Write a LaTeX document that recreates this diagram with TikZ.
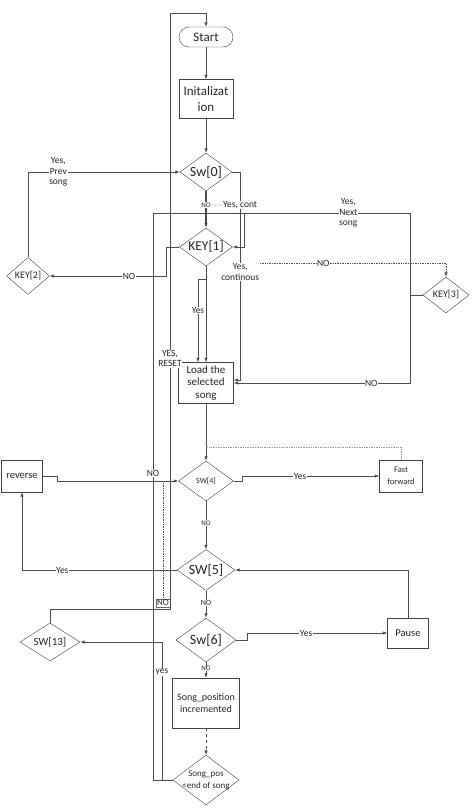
\documentclass[tikz,border=0pt]{standalone}
\usepackage{fontspec}
\setmainfont{Carlito}
\usetikzlibrary{positioning, arrows.meta, shapes.geometric}

\newcommand{\fsz}[2]{\fontsize{#1}{#2}\selectfont}
\tikzset{
  flow/.style={draw=black!70, line width=0.7pt, -{Latex[length=4.5pt,width=3.5pt]}},
  wire/.style={draw=black!70, line width=0.7pt},
  proc/.style={draw=black!75, rectangle, align=center, inner sep=1pt, text=black!85},
  term/.style={proc, rounded corners=10pt},
  decision/.style={draw=black!75, diamond, aspect=1.4, inner sep=0pt, align=center, text=black!85},
  lbl/.style={fill=white, inner sep=0.5pt, align=center, text=black!85, font=\fsz{9.5}{10.5}},
  smalllbl/.style={lbl, font=\fsz{7}{8}}
}

\begin{document}
\begin{tikzpicture}[x=1pt, y=-1pt, on grid]
    \useasboundingbox (0,0) rectangle (474,809);
    \node[term, minimum width=54pt, minimum height=20pt, font=\fsz{13}{15}] (start) at (206,37) {Start};
    \node[proc, minimum width=54pt, minimum height=39pt, font=\fsz{13}{16}] (init) [below=62pt of start] {Initalizat\\ion};
    \node[decision, minimum width=52pt, minimum height=38pt, font=\fsz{14}{16}] (sw_0) [below=73pt of init] {Sw[0]};
    \node[decision, minimum width=53pt, minimum height=38pt, font=\fsz{13.5}{16}] (key_1) [below=75pt of sw_0] {KEY[1]};
    \node[proc, minimum width=55pt, minimum height=41pt, font=\fsz{11}{12.5}] (load) [below=136pt of key_1] {Load the\\selected\\song};
    \node[decision, minimum width=55pt, minimum height=40pt, font=\fsz{8}{9}] (sw_4) [below=98pt of load] {SW[4]};
    \node[decision, minimum width=58pt, minimum height=41pt, font=\fsz{14}{16}] (sw_5) [below=89pt of sw_4] {SW[5]};
    \node[decision, minimum width=60pt, minimum height=44pt, font=\fsz{14}{16}] (sw_6) [below=70pt of sw_5] {Sw[6]};
    \node[proc, minimum width=67pt, minimum height=50pt, font=\fsz{10}{12}] (inc) [below=63pt of sw_6] {Song\_position\\incremented};
    \node[decision, inner sep=-4pt, minimum width=66pt, minimum height=50pt, font=\fsz{9}{12}] (pos) [below=77pt of inc] {Song\_pos\\<end of song};

    \node[decision, minimum width=43pt, minimum height=37pt, font=\fsz{10}{12}] (key_2) at (28,276) {KEY[2]};
    \node[decision, minimum width=46pt, minimum height=36pt, font=\fsz{10}{12}] (key_3) at (446,295) {KEY[3]};
    \node[proc, minimum width=43pt, minimum height=32pt, font=\fsz{8.5}{12}] (ff) at (401,476) {Fast\\forward};
    \node[proc, minimum width=41pt, minimum height=32pt, font=\fsz{10.5}{12}] (rev) at (22,476) {reverse};
    \node[proc, minimum width=41pt, minimum height=30pt, font=\fsz{10.5}{12}] (pause) at (408,633) {Pause};
    \node[decision, minimum width=60pt, minimum height=38pt, font=\fsz{11}{13}] (sw_13) at (50,642) {SW[13]};

    \coordinate (top) at (170,13);
    \coordinate (rj) at (170,609);
    \coordinate (vl) at (153,213);
    \coordinate (nx) at (410,213);
    \coordinate (kj) at (244,213);
    \coordinate (cn) at (260,263);
    \coordinate (fj) at (206,447);
    \coordinate (dj) at (163,483);
    \coordinate (yj) at (162,642);
    \node[draw=black!60, line width=0.4pt, inner sep=1pt, text=black!85, font=\fsz{9}{10}] (nob) at (163,603) {NO};

    \draw[flow] (start) -- (init);
    \draw[flow] (init) -- (sw_0);
    \draw[flow, line width=1.1pt] (sw_0) -- node[smalllbl, pos=0.38] (no_0) {NO} (key_1);
    \draw[flow] (sw_0.east) -- ++(8,0) |- node[lbl, pos=0.08] (ycont) {Yes, cont} node[lbl, pos=0.24] {Yes,\\continous} ([yshift=3pt]load.east);
    \draw[wire, densely dotted, line width=0.5pt] (no_0) -- (ycont);
    \draw[flow] (kj) |- (key_1.east);
    \draw[flow] (key_2.north) |- node[lbl, pos=0.6] {Yes,\\Prev\\song} (sw_0.west);
    \draw[flow] (key_1.west) -- ++(-13,0) |- node[lbl, pos=0.66] {NO} (key_2.east);
    \draw[flow] (key_1) -- (load);
    \draw[flow] (key_1.south) -- ++(0,13) -| node[lbl, pos=0.69] {Yes} ([xshift=-8pt]load.north);
    \draw[flow, densely dotted] (cn) -| node[lbl, pos=0.17] {NO} (key_3.north);
    \draw[wire] (key_3.west) -- (key_3.west -| nx);
    \draw[flow] (pos.west) -| node[lbl, pos=0.77] {NO} (vl) -- node[lbl, pos=0.76] {Yes,\\Next\\song} (nx) |- node[lbl, pos=0.61] {NO} (load.east);

    \draw[flow] (load) -- (sw_4);
    \draw[wire, densely dotted, draw=black!40] (ff.north) |- (fj);
    \draw[flow] (sw_4.east) -- ++(9,0) |- node[lbl, pos=0.71] {Yes} (ff.west);
    \draw[flow] (rev.east) -- ++(15,0) |- (sw_4.west);
    \draw[wire, densely dotted, line width=1pt] (dj) -- (nob);
    \draw[flow] (sw_4) -- node[smalllbl, pos=0.45] {NO} (sw_5);
    \draw[flow] (sw_5.west) -| node[lbl, pos=0.37] {Yes} (rev.south);
    \draw[flow] (pause.north) |- (sw_5.east);
    \draw[flow] (sw_5) -- node[smalllbl, font=\fsz{8}{9}, pos=0.44] {NO} (sw_6);
    \draw[flow] (sw_6.east) -- ++(11,0) |- node[lbl, pos=0.71] {Yes} (pause.west);
    \draw[flow] (sw_6) -- node[smalllbl, pos=0.4] {NO} (inc);
    \draw[flow, dashed] (inc) -- (pos);
    \draw[flow] (pos.west) -| node[lbl, pos=0.89] {yes} (yj) -- (sw_13.east);
    \draw[flow] (sw_13.north) |- (rj) -- node[lbl, pos=0.42] {YES,\\RESET} (top) -| (start.north);
\end{tikzpicture}
\end{document}
